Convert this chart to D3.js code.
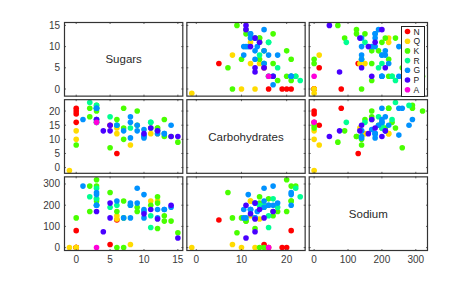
<!DOCTYPE html>
<meta charset="utf-8">
<style>
  body { margin: 0; background: #fff; }
  .tick-label { font: 10px "Liberation Sans", Arial, sans-serif; fill: #3a3a3a; }
  .var-label { font: 11.5px "Liberation Sans", Arial, sans-serif; fill: #2a2a2a; text-anchor: middle; }
  .legend text { font: 8.5px "Liberation Sans", Arial, sans-serif; fill: #222; }
</style>
<svg width="474" height="285"></svg>
<script src="https://d3js.org/d3.v7.min.js"></script>
<script>

  // cereal data, one entry per cereal
  var mfg = ["N","Q","K","K","R","G","K","G","R","P","Q","G","G","G","G","R","K","K","G","K",
             "N","K","G","R","K","K","K","P","K","P","P","G","P","P","P","Q","G","P","K","K",
             "G","Q","G","A","R","R","K","G","K","K","K","G","P","K","Q","Q","Q","Q","K","G",
             "K","R","K","N","N","N","K","K","N","G","G","G","G","G","R","G","G"];
  var sugars = [6,8,5,0,8,10,14,8,6,5,12,1,9,7,13,3,2,12,13,7,
                0,3,10,5,13,11,7,10,12,12,15,9,5,3,4,11,10,11,6,9,
                3,6,12,3,11,11,13,6,9,7,2,10,14,3,0,0,6,-1,12,8,
                6,2,3,0,0,0,15,3,5,3,14,3,3,12,3,3,8];
  var carbo = [5,8,7,8,14,10.5,11,18,15,13,12,17,13,13,12,22,21,13,12,10,
               21,21,11,18,11,14,14,12,14,13,11,15,15,17,13,12,11.5,14,17,20,
               21,12,12,16,16,16,17,15,15,21,18,13.5,11,20,13,10,14,-1,14,10.5,
               15,23,22,16,19,20,9,16,15,21,15,16,21,13,17,17,16];
  var sodium = [130,15,260,140,200,180,125,210,200,210,220,290,210,140,180,280,290,90,180,140,
                80,220,140,190,125,200,0,160,240,135,45,280,140,170,75,220,250,180,170,170,
                260,150,180,0,95,150,150,220,190,220,170,170,200,320,0,0,135,0,210,140,
                0,240,290,0,0,0,70,230,15,200,190,200,250,140,230,200,200];

  var groups = ["N","Q","K","R","G","P","A"];
  var varNames = ["Sugars","Carbohydrates","Sodium"];
  var columns = [sugars, carbo, sodium];
  var domains = [[-1.8, 15.8], [-2.2, 24.2], [-16, 336]];
  var xTicks = [[0,5,10,15], [0,10,20], [0,100,200,300]];
  var yTicks = [[0,5,10,15], [0,5,10,15,20], [0,100,200,300]];

  var svg = d3.select("svg");

  var color = d3.scaleOrdinal()
      .domain(groups)
      .range(groups.map(function(g, i) { return d3.hsl(360 * i / groups.length, 1, 0.5).toString(); }));

  var colBand = d3.scaleBand().domain([0,1,2]).range([64, 428]).paddingInner(0.025);
  var rowBand = d3.scaleBand().domain([0,1,2]).range([22, 251]).paddingInner(0.033);

  var idx = d3.range(mfg.length);

  for (var r = 0; r < 3; r++) {
    for (var c = 0; c < 3; c++) {
      var x0 = colBand(c), y0 = rowBand(r), w = colBand.bandwidth(), h = rowBand.bandwidth();
      var x = d3.scaleLinear().domain(domains[c]).range([x0, x0 + w]);
      var y = d3.scaleLinear().domain(domains[r]).range([y0 + h, y0]);
      var g = svg.append("g");

      if (r !== c) {
        // draw group by group so later groups sit on top
        groups.forEach(function(grp) {
          g.selectAll(null)
            .data(idx.filter(function(i) { return mfg[i] === grp; }))
            .enter().append("circle")
            .attr("cx", function(i) { return x(columns[c][i]); })
            .attr("cy", function(i) { return y(columns[r][i]); })
            .attr("r", 2.8)
            .attr("fill", color(grp));
        });
      } else {
        g.append("text").attr("class", "var-label")
          .attr("x", x0 + w / 2).attr("y", y0 + h / 2 + 4)
          .text(varNames[c]);
      }

      // inward tick marks on all sides
      var tk = g.append("g").attr("stroke", "#666").attr("stroke-width", 1);
      xTicks[c].forEach(function(t) {
        tk.append("line").attr("x1", x(t)).attr("x2", x(t)).attr("y1", y0 + h).attr("y2", y0 + h - 2);
        tk.append("line").attr("x1", x(t)).attr("x2", x(t)).attr("y1", y0).attr("y2", y0 + 2);
      });
      yTicks[r].forEach(function(t) {
        tk.append("line").attr("y1", y(t)).attr("y2", y(t)).attr("x1", x0).attr("x2", x0 + 2);
        tk.append("line").attr("y1", y(t)).attr("y2", y(t)).attr("x1", x0 + w).attr("x2", x0 + w - 2);
      });

      g.append("rect")
        .attr("x", x0 + 0.5).attr("y", y0 + 0.5).attr("width", w - 1).attr("height", h - 1)
        .attr("fill", "none").attr("stroke", "#333").attr("stroke-width", 1.2);

      if (c === 0) {
        g.selectAll(null).data(yTicks[r]).enter().append("text")
          .attr("class", "tick-label")
          .attr("x", x0 - 4).attr("y", function(t) { return y(t) + 3.5; })
          .attr("text-anchor", "end")
          .text(function(t) { return t; });
      }
      if (r === 2) {
        g.selectAll(null).data(xTicks[c]).enter().append("text")
          .attr("class", "tick-label")
          .attr("x", function(t) { return x(t); }).attr("y", y0 + h + 12)
          .attr("text-anchor", "middle")
          .text(function(t) { return t; });
      }
    }
  }

  // legend inside the top-right panel
  var legend = svg.append("g").attr("class", "legend").attr("transform", "translate(401,26)");
  legend.append("rect").attr("x", 0.5).attr("y", 0.5).attr("width", 23).attr("height", 70)
    .attr("fill", "#fff").attr("stroke", "#222").attr("stroke-width", 1);
  var item = legend.selectAll("g.item").data(groups).enter().append("g")
    .attr("class", "item")
    .attr("transform", function(d, i) { return "translate(0," + (5.5 + i * 9.7) + ")"; });
  item.append("circle").attr("cx", 6.5).attr("cy", 0).attr("r", 2.8).attr("fill", function(d) { return color(d); });
  item.append("text").attr("x", 12.5).attr("y", 3).text(function(d) { return d; });

</script>
